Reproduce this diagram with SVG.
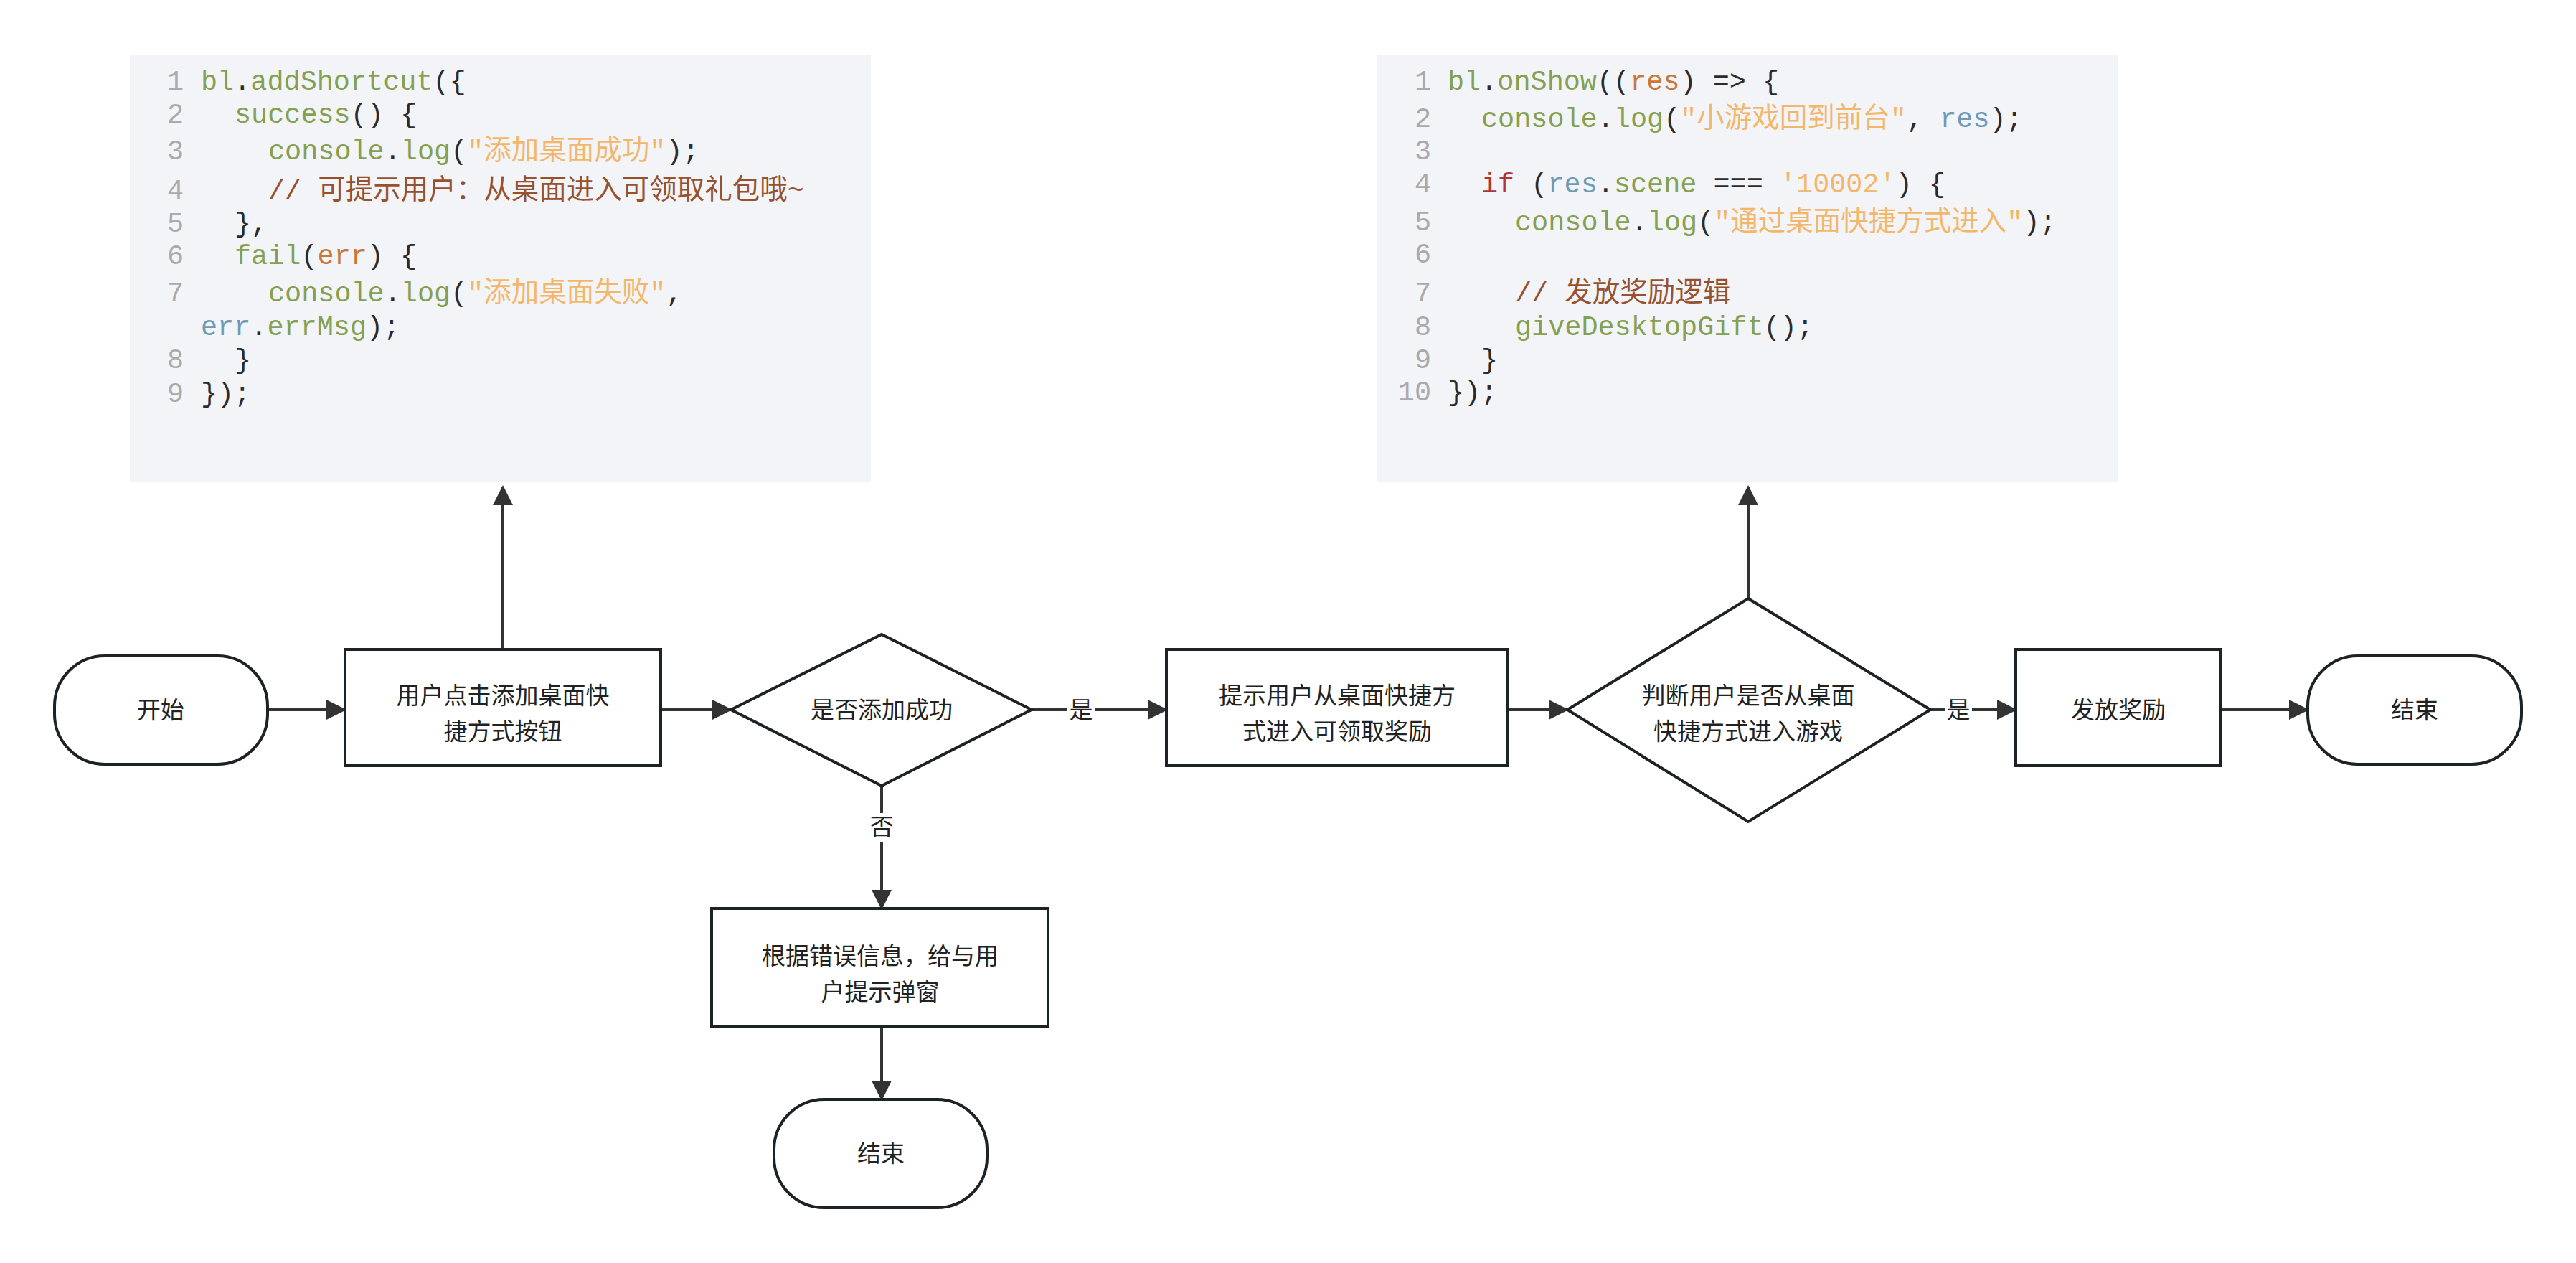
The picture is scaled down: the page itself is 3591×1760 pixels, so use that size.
<svg xmlns="http://www.w3.org/2000/svg" width="3591" height="1760" viewBox="0 0 3591 1760">
<style>
.n{fill:#fff;stroke:#1d2227;stroke-width:4}
.t{font-family:"Liberation Sans","Noto Sans CJK SC",sans-serif;font-size:33px;fill:#222;text-anchor:middle}
.c{stroke:#333;stroke-width:4;fill:none}
.code{font-family:"Liberation Mono","Noto Sans CJK SC",monospace;font-size:38.5px;fill:#2b2b2b;white-space:pre}
.ln{font-family:"Liberation Mono",monospace;font-size:38.5px;fill:#aaa;text-anchor:end}
.g{fill:#84a050}.s{fill:#f3b76c}.cm{fill:#96512e}.p{fill:#c8783a}.b{fill:#6b9bb6}.k{fill:#b2323a}
</style>
<defs><marker id="a" markerUnits="userSpaceOnUse" markerWidth="30" markerHeight="30" refX="26" refY="14" orient="auto"><path d="M0,0 L28,14 L0,28 Z" fill="#333"/></marker></defs>
<g id="code1">
<rect x="181" y="76" width="1033" height="595" fill="#f3f4f8"/>
<g class="ln"><text x="256" y="125">1</text><text x="256" y="171">2</text><text x="256" y="222">3</text><text x="256" y="277">4</text><text x="256" y="323">5</text><text x="256" y="368">6</text><text x="256" y="420">7</text><text x="256" y="513">8</text><text x="256" y="560">9</text></g>
<text class="code" x="280" y="125"><tspan class="g">bl</tspan>.<tspan class="g">addShortcut</tspan>({</text>
<text class="code" x="327" y="171"><tspan class="g">success</tspan>() {</text>
<text class="code" x="374" y="222"><tspan class="g">console</tspan>.<tspan class="g">log</tspan>(<tspan class="s">"添加桌面成功"</tspan>);</text>
<text class="code cm" x="374" y="277">// 可提示用户：从桌面进入可领取礼包哦~</text>
<text class="code" x="327" y="323">},</text>
<text class="code" x="327" y="368"><tspan class="g">fail</tspan>(<tspan class="p">err</tspan>) {</text>
<text class="code" x="374" y="420"><tspan class="g">console</tspan>.<tspan class="g">log</tspan>(<tspan class="s">"添加桌面失败"</tspan>,</text>
<text class="code" x="280" y="467"><tspan class="b">err</tspan>.<tspan class="g">errMsg</tspan>);</text>
<text class="code" x="327" y="513">}</text>
<text class="code" x="280" y="560">});</text>
</g>
<g id="code2">
<rect x="1919" y="76" width="1033" height="595" fill="#f3f4f8"/>
<g class="ln"><text x="1995" y="125">1</text><text x="1995" y="177">2</text><text x="1995" y="222">3</text><text x="1995" y="268">4</text><text x="1995" y="321">5</text><text x="1995" y="366">6</text><text x="1995" y="420">7</text><text x="1995" y="467">8</text><text x="1995" y="513">9</text><text x="1995" y="558">10</text></g>
<text class="code" x="2018" y="125"><tspan class="g">bl</tspan>.<tspan class="g">onShow</tspan>((<tspan class="p">res</tspan>) =&gt; {</text>
<text class="code" x="2065" y="177"><tspan class="g">console</tspan>.<tspan class="g">log</tspan>(<tspan class="s">"小游戏回到前台"</tspan>, <tspan class="b">res</tspan>);</text>
<text class="code" x="2065" y="268"><tspan class="k">if</tspan> (<tspan class="b">res</tspan>.<tspan class="g">scene</tspan> === <tspan class="s">'10002'</tspan>) {</text>
<text class="code" x="2112" y="321"><tspan class="g">console</tspan>.<tspan class="g">log</tspan>(<tspan class="s">"通过桌面快捷方式进入"</tspan>);</text>
<text class="code cm" x="2112" y="420">// 发放奖励逻辑</text>
<text class="code" x="2112" y="467"><tspan class="g">giveDesktopGift</tspan>();</text>
<text class="code" x="2065" y="513">}</text>
<text class="code" x="2018" y="558">});</text>
</g>
<g id="connectors">
<path class="c" d="M373,989H481" marker-end="url(#a)"/>
<path class="c" d="M921,989H1019" marker-end="url(#a)"/>
<path class="c" d="M1438,989H1626" marker-end="url(#a)"/>
<path class="c" d="M2102,989H2185" marker-end="url(#a)"/>
<path class="c" d="M2691,989H2810" marker-end="url(#a)"/>
<path class="c" d="M3096,989H3217" marker-end="url(#a)"/>
<path class="c" d="M1229,1095V1266" marker-end="url(#a)"/>
<path class="c" d="M1229,1431V1532" marker-end="url(#a)"/>
<path class="c" d="M701,905V678" marker-end="url(#a)"/>
<path class="c" d="M2437,834V678" marker-end="url(#a)"/>
<rect x="1488" y="970" width="38" height="40" fill="#fff"/><text class="t" x="1507" y="1001">是</text>
<rect x="2711" y="970" width="38" height="40" fill="#fff"/><text class="t" x="2730" y="1001">是</text>
<rect x="1210" y="1133" width="38" height="40" fill="#fff"/><text class="t" x="1229" y="1164">否</text>
</g>
<g id="start"><rect class="n" x="76" y="914" width="297" height="151" rx="70"/><text class="t" x="224" y="1001">开始</text></g>
<g id="click"><rect class="n" x="481" y="905" width="440" height="162"/><text class="t" x="701" y="981">用户点击添加桌面快</text><text class="t" x="701" y="1031">捷方式按钮</text></g>
<g id="check1"><path class="n" d="M1229,884L1438,989L1229,1095L1019,989Z"/><text class="t" x="1229" y="1001">是否添加成功</text></g>
<g id="tip"><rect class="n" x="1626" y="905" width="476" height="162"/><text class="t" x="1864" y="981">提示用户从桌面快捷方</text><text class="t" x="1864" y="1031">式进入可领取奖励</text></g>
<g id="check2"><path class="n" d="M2437,834L2691,989L2437,1145L2185,989Z"/><text class="t" x="2437" y="981">判断用户是否从桌面</text><text class="t" x="2437" y="1031">快捷方式进入游戏</text></g>
<g id="reward"><rect class="n" x="2810" y="905" width="286" height="162"/><text class="t" x="2953" y="1001">发放奖励</text></g>
<g id="end1"><rect class="n" x="3217" y="914" width="298" height="151" rx="70"/><text class="t" x="3366" y="1001">结束</text></g>
<g id="error"><rect class="n" x="992" y="1266" width="469" height="165"/><text class="t" x="1227" y="1344">根据错误信息，给与用</text><text class="t" x="1227" y="1394">户提示弹窗</text></g>
<g id="end2"><rect class="n" x="1079" y="1532" width="297" height="151" rx="70"/><text class="t" x="1228" y="1619">结束</text></g>
</svg>
